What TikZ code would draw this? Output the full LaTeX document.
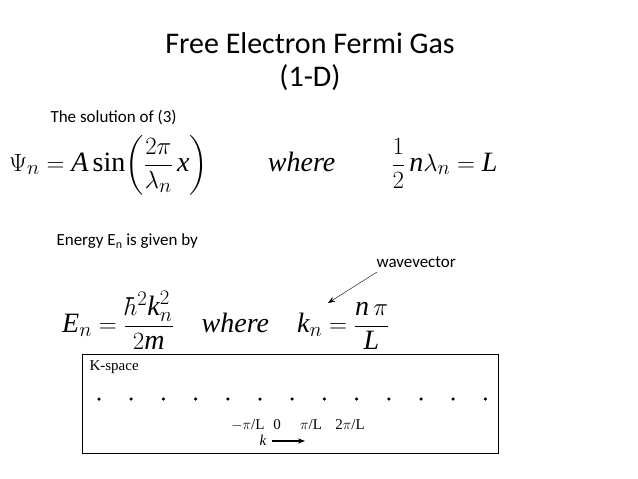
\documentclass[tikz,border=0pt]{standalone}
\usepackage{amsmath}
\usepackage{fontspec}
\setmainfont{Carlito}
\newfontfamily\tms{Liberation Serif}
\newcommand{\tx}[1]{\text{\tms\itshape #1}}
\newcommand{\tr}[1]{\text{\tms #1}}
\usetikzlibrary{arrows.meta}
\begin{document}
\begin{tikzpicture}[x=1pt,y=-1pt,
  cal/.style={font=\fontsize{17}{20}\selectfont},
  eq/.style={font=\fontsize{28}{32}\selectfont,inner sep=0pt},
  tm/.style={font=\tms\fontsize{15}{17}\selectfont},
  kdot/.style={circle,fill=black,inner sep=0pt,minimum size=3.5pt}]
\useasboundingbox (0,0) rectangle (638,479);
\node[font=\fontsize{30}{33}\selectfont,align=center] (title) at (310,62) {Free Electron Fermi Gas\\(1-D)};
\node[cal,anchor=west] (sol) at (47,117) {The solution of (3)};
\node[eq,anchor=west] (eq1) at (9,165) {$\Psi_n = \tx{A}\,\tr{sin}\!\left(\dfrac{2\pi}{\lambda_n}\,\tx{x}\right)\qquad \tx{where}\qquad \dfrac{1}{2}\,\tx{n}\lambda_n = \tx{L}$};
\node[cal,anchor=west] (en) at (53,241) {Energy E\textsubscript{n} is given by};
\node[cal,anchor=west] (wv) at (373,262) {wavevector};
\node[eq,anchor=west] (eq2) at (62,320) {$\tx{E}_n = \dfrac{\hbar^2 \tx{k}_n^2}{2\tx{m}}\quad \tx{where}\quad \tx{k}_n = \dfrac{\tx{n}\,\pi}{\tx{L}}$};
\coordinate (wvtip) at (328,303);
\draw[-{Stealth[length=7pt]}] (377,272) -- (wvtip);
\draw (82,354) rectangle (498,453);
\node[tm,anchor=west] (ks) at (86,367) {K-space};
\foreach \i in {0,...,12} \node[kdot] (d\i) at (99+32.2*\i,399) {};
\node[tm] (l1) at (248,425) {$-\pi$/L};
\node[tm] (l2) at (277,425) {0};
\node[tm] (l3) at (311,425) {$\pi$/L};
\node[tm] (l4) at (350,425) {2$\pi$/L};
\node[tm,font=\tms\itshape\fontsize{15}{17}\selectfont] (k) at (263,440) {k};
\coordinate (ka) at (272,441);
\coordinate (kb) at (305,441);
\draw[line width=1.3pt,-{Stealth[length=7pt]}] (ka) -- (kb);
\end{tikzpicture}
\end{document}
